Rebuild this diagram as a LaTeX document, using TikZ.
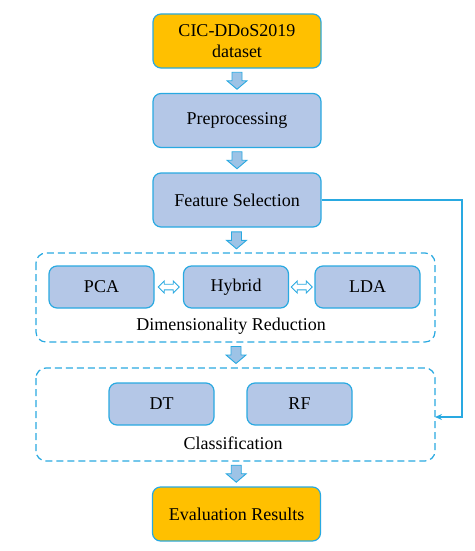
\documentclass[tikz,border=0pt]{standalone}
\usepackage{fontspec}
\setmainfont{Liberation Serif}
\usetikzlibrary{calc,arrows.meta}
\definecolor{bord}{HTML}{29A9E1}
\definecolor{gold}{HTML}{FFC000}
\definecolor{lblue}{HTML}{B4C7E7}
\definecolor{arrfill}{HTML}{9DC3E6}
\begin{document}
\begin{tikzpicture}[x=1pt,y=-1pt,
  box/.style={draw=bord, line width=1.2pt, rounded corners=8pt, align=center,
    font=\fontsize{18}{21}\selectfont, inner sep=0pt},
  bigbox/.style={box, minimum width=168pt, minimum height=54pt},
  smallbox/.style={box, fill=lblue, minimum width=105pt, minimum height=42pt},
  group/.style={draw=bord, line width=1.2pt, dash pattern=on 7pt off 4pt, rounded corners=10pt},
  blockarr/.style={draw=bord, fill=arrfill, line width=0.9pt, line join=miter},
  dblarr/.style={draw=bord, fill=white, line width=0.9pt, line join=miter},
  lbl/.style={font=\fontsize{18}{21}\selectfont}
]
\useasboundingbox (0,0) rectangle (474,551);

\node[bigbox, fill=gold] (cic) at (237,41) {CIC-DDoS2019\\dataset};
\node[bigbox, fill=lblue] (pre) at (237,120.5) {Preprocessing};
\node[bigbox, fill=lblue] (fs) at (237,200) {Feature Selection};

\node[smallbox] (pca) at (101.5,287) {PCA};
\node[smallbox] (hyb) at (236,287) {Hybrid};
\node[smallbox] (lda) at (367.5,287) {LDA};
\node[lbl] (drl) at (231,326) {Dimensionality Reduction};
\draw[group] (36,253) rectangle (435,342);
\coordinate (drtop) at (236,253);
\coordinate (drbot) at (236,342);

\node[smallbox] (dt) at (161.5,404) {DT};
\node[smallbox] (rf) at (299.5,404) {RF};
\node[lbl] (cll) at (233,443) {Classification};
\draw[group] (36,368) rectangle (435,461);
\coordinate (cltop) at (236,368);
\coordinate (clbot) at (236,461);
\coordinate (clright) at (435,417);

\node[bigbox, fill=gold] (ev) at (236.5,514) {Evaluation Results};

% block arrow centres
\coordinate (a1) at ($(cic.south)!0.5!(pre.north)$);
\coordinate (a2) at ($(pre.south)!0.5!(fs.north)$);
\coordinate (a3) at ($(fs.south)!0.5!(drtop)$);
\coordinate (a4) at ($(drbot)!0.5!(cltop)$);
\coordinate (a5) at ($(clbot)!0.5!(ev.north)$);
\foreach \c in {a1,a2,a3,a4,a5}{
  \begin{scope}[shift={(\c)}]
    \draw[blockarr] (-5,-8.5) -- (5,-8.5) -- (5,0) -- (10,0) -- (0,8.5)
      -- (-10,0) -- (-5,0) -- cycle;
  \end{scope}
}

% double arrows
\coordinate (d1) at ($(pca.east)!0.5!(hyb.west)$);
\coordinate (d2) at ($(hyb.east)!0.5!(lda.west)$);
\foreach \c in {d1,d2}{
  \begin{scope}[shift={(\c)}]
    \draw[dblarr] (-10.5,0) -- (-4.5,-6) -- (-4.5,-2.8) -- (4.5,-2.8) -- (4.5,-6)
      -- (10.5,0) -- (4.5,6) -- (4.5,2.8) -- (-4.5,2.8) -- (-4.5,6) -- cycle;
  \end{scope}
}

% feedback connector
\coordinate (corner) at (462,200);
\draw[bord, line width=1.2pt, -{Stealth[length=7pt,width=6pt]}]
  (fs.east) -- (corner) |- (clright);
\end{tikzpicture}
\end{document}
